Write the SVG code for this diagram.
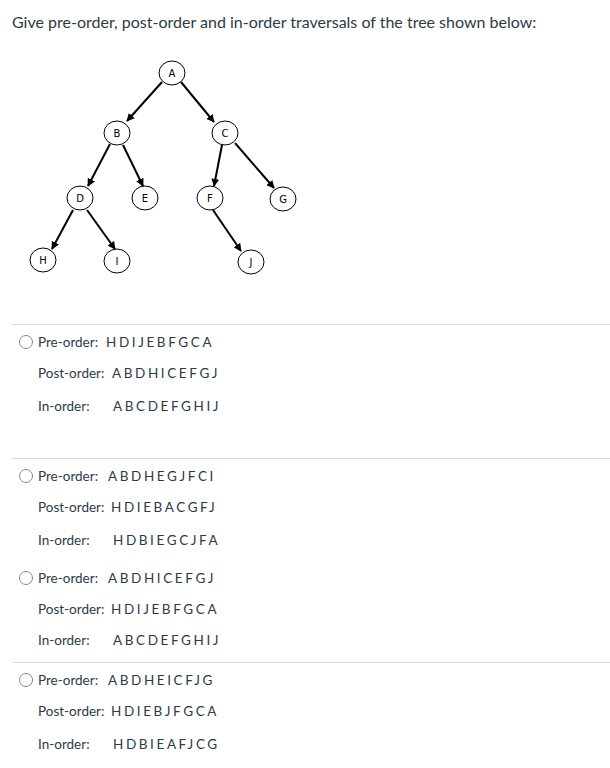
<svg xmlns="http://www.w3.org/2000/svg" width="610" height="768" viewBox="0 0 610 768">
<style>
.t{font-family:Lato,"Liberation Sans",sans-serif;fill:#2d3b45}
.q{font-size:16px}
.o{font-size:13.5px}
.s{letter-spacing:2.6px}
.n ellipse{fill:#fff;stroke:#000;stroke-width:1}
.n text{font-family:"DejaVu Sans",sans-serif;font-size:10px;text-anchor:middle;fill:#000}
.e line{stroke:#000;stroke-width:2;marker-end:url(#a)}
.r{fill:#fff;stroke:#888;stroke-width:1}
.sep{stroke:#ddd;stroke-width:1}
</style>
<defs><marker id="a" viewBox="0 0 10 10" refX="9" refY="5" markerWidth="4" markerHeight="4" orient="auto"><path d="M0,0L10,5L0,10z" fill="#000"/></marker></defs>
<rect width="610" height="768" fill="#fff"/>
<text class="t q" x="12" y="28">Give pre-order, post-order and in-order traversals of the tree shown below:</text>
<g class="e">
<line x1="162" y1="82" x2="127" y2="121"/>
<line x1="181" y1="82" x2="214" y2="122"/>
<line x1="110" y1="144" x2="88" y2="186"/>
<line x1="123" y1="145" x2="143" y2="186"/>
<line x1="222" y1="145" x2="214" y2="186"/>
<line x1="235" y1="143" x2="274" y2="188"/>
<line x1="73" y1="210" x2="52" y2="249"/>
<line x1="87" y1="210" x2="115" y2="249"/>
<line x1="213" y1="210" x2="241" y2="251"/>
</g>
<g class="n" id="A"><ellipse cx="172" cy="73" rx="13" ry="12"/><text x="172" y="77">A</text></g>
<g class="n" id="B"><ellipse cx="117" cy="133" rx="13" ry="12"/><text x="117" y="137">B</text></g>
<g class="n" id="C"><ellipse cx="225" cy="133" rx="13" ry="12"/><text x="225" y="137">C</text></g>
<g class="n" id="D"><ellipse cx="80" cy="198" rx="13" ry="12"/><text x="80" y="202">D</text></g>
<g class="n" id="E"><ellipse cx="145" cy="198" rx="13" ry="12"/><text x="145" y="202">E</text></g>
<g class="n" id="F"><ellipse cx="210" cy="198" rx="13" ry="12"/><text x="210" y="202">F</text></g>
<g class="n" id="G"><ellipse cx="283" cy="199" rx="13" ry="12"/><text x="283" y="203">G</text></g>
<g class="n" id="H"><ellipse cx="43" cy="260" rx="13" ry="12"/><text x="43" y="264">H</text></g>
<g class="n" id="I"><ellipse cx="117" cy="261" rx="13" ry="12"/><text x="117" y="265">I</text></g>
<g class="n" id="J"><ellipse cx="251" cy="262" rx="13" ry="12"/><text x="251" y="266">J</text></g>
<line class="sep" x1="12" y1="324.5" x2="610" y2="324.5"/>
<line class="sep" x1="12" y1="458.5" x2="610" y2="458.5"/>
<line class="sep" x1="12" y1="662.5" x2="610" y2="662.5"/>
<circle class="r" cx="26" cy="342" r="6.5"/>
<text class="t o" x="38" y="347">Pre-order: <tspan class="s" x="106">HDIJEBFGCA</tspan></text>
<text class="t o" x="38" y="378">Post-order: <tspan class="s" x="112">ABDHICEFGJ</tspan></text>
<text class="t o" x="38" y="411">In-order: <tspan class="s" x="113">ABCDEFGHIJ</tspan></text>
<circle class="r" cx="26" cy="476" r="6.5"/>
<text class="t o" x="38" y="481">Pre-order: <tspan class="s" x="108">ABDHEGJFCI</tspan></text>
<text class="t o" x="38" y="512">Post-order: <tspan class="s" x="111">HDIEBACGFJ</tspan></text>
<text class="t o" x="38" y="545">In-order: <tspan class="s" x="113">HDBIEGCJFA</tspan></text>
<circle class="r" cx="26" cy="578" r="6.5"/>
<text class="t o" x="38" y="583">Pre-order: <tspan class="s" x="108">ABDHICEFGJ</tspan></text>
<text class="t o" x="38" y="614">Post-order: <tspan class="s" x="111">HDIJEBFGCA</tspan></text>
<text class="t o" x="38" y="645">In-order: <tspan class="s" x="113">ABCDEFGHIJ</tspan></text>
<circle class="r" cx="26" cy="680" r="6.5"/>
<text class="t o" x="38" y="685">Pre-order: <tspan class="s" x="108">ABDHEICFJG</tspan></text>
<text class="t o" x="38" y="716">Post-order: <tspan class="s" x="111">HDIEBJFGCA</tspan></text>
<text class="t o" x="38" y="749">In-order: <tspan class="s" x="113">HDBIEAFJCG</tspan></text>
</svg>
